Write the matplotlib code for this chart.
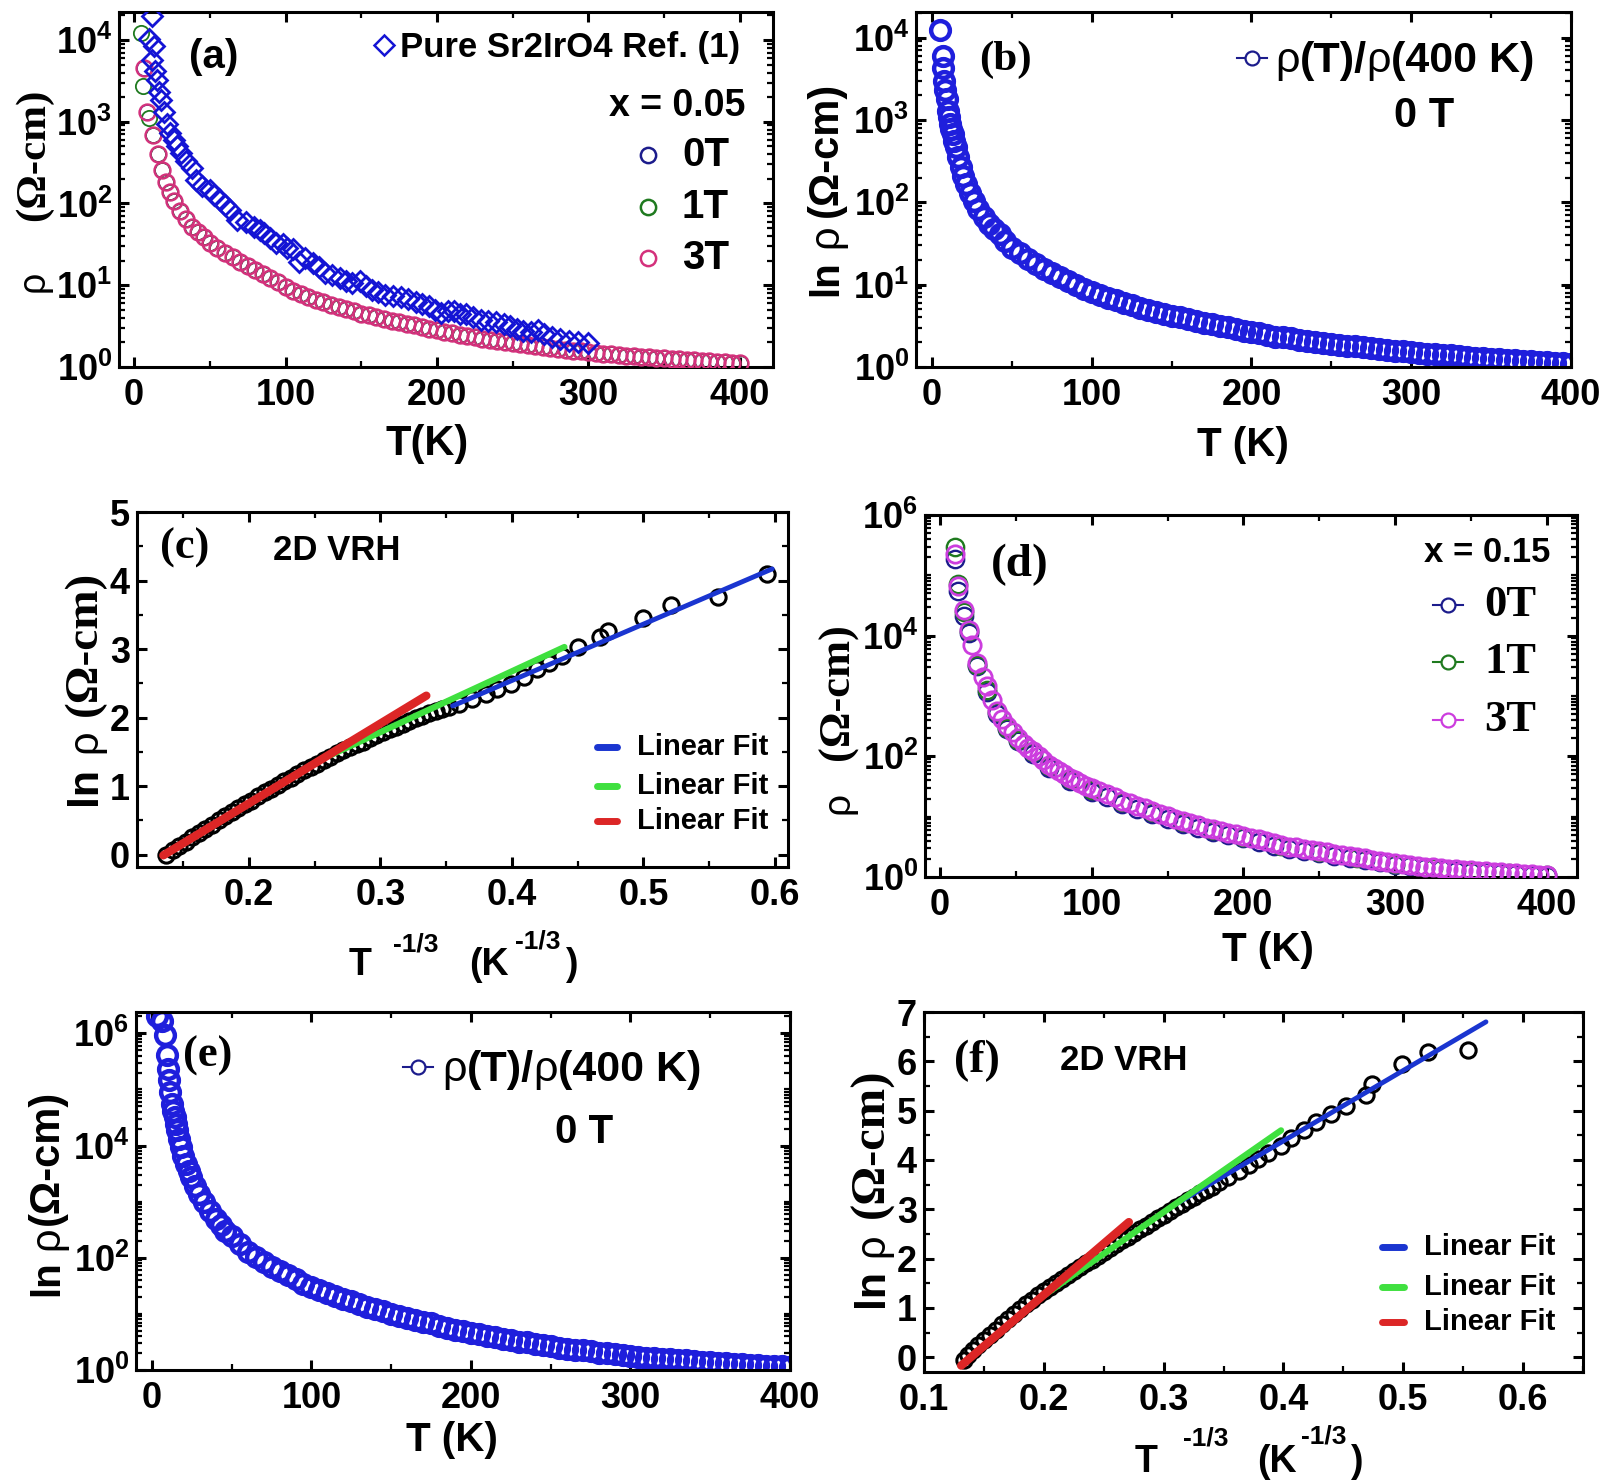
import numpy as np
import matplotlib
matplotlib.use('Agg')
import matplotlib.pyplot as plt
from matplotlib.lines import Line2D
from matplotlib.ticker import (MultipleLocator, FixedLocator, LogLocator,
                               LogFormatterMathtext, NullFormatter)

W, H = 1600, 1484

# ---------------- data ----------------
# shared temperature grid (K) for the dense high-T part of the curves
T_grid = [50, 55, 60, 65, 70, 75, 80, 85, 90, 95, 100, 105, 110, 115, 120, 125, 130, 135,
          140, 145, 150, 155, 160, 165, 170, 175, 180, 185, 190, 195, 200, 205, 210, 215,
          220, 225, 230, 235, 240, 245, 250, 255, 260, 265, 270, 275, 280, 285, 290, 295,
          300, 305, 310, 315, 320, 325, 330, 335, 340, 345, 350, 355, 360, 365, 370, 375,
          380, 385, 390, 395, 400]

# (a) x = 0.05
T_a_low = [6.5, 8.5, 12.5, 16, 18.5, 21, 23.5, 26, 30, 34, 38, 42, 46]
rho_a_3T_low = [4600, 1300, 690, 400, 260, 185, 140, 108, 82, 65, 52, 45, 38.5]
rho_a_3T_hi = [33, 28.5, 25, 22, 19.5, 17.3, 15.5, 13.8, 12.3, 10.9, 9.6,
               8.6, 7.8, 7.2, 6.6, 6.2, 5.8, 5.4, 5.1, 4.8, 4.5, 4.3, 4.1, 3.9, 3.7, 3.55,
               3.38, 3.22, 3.08, 2.95, 2.82,
               2.70, 2.59, 2.49, 2.40, 2.31, 2.23, 2.16, 2.09, 2.02, 1.95, 1.90, 1.86, 1.81,
               1.76, 1.71, 1.67, 1.63, 1.59, 1.55, 1.52,
               1.49, 1.46, 1.43, 1.41, 1.38, 1.36, 1.34, 1.32, 1.30, 1.28, 1.26, 1.24, 1.22,
               1.21, 1.19, 1.17, 1.16, 1.14, 1.13, 1.11]
T_a_1T_low = [4.3, 6.0, 10.0]
rho_a_1T_low = [12300, 2700, 1100]

T_pure = [10, 11.5, 12, 13, 14, 15, 16.5, 18, 20, 22, 24, 26, 28, 31, 34, 38, 41, 45, 50, 53,
          56, 60, 63, 68, 74, 79, 83, 86, 90, 94, 98, 101, 105, 109, 113, 118, 122, 126, 131,
          136, 140, 144, 149, 153, 157, 161, 166, 171, 176, 181, 186, 190, 195, 199, 203,
          207, 211, 215, 219, 224, 229, 234, 239, 244, 248, 253, 257, 262, 267, 271, 276,
          281, 287, 293, 300]
rho_pure = [10200, 19500, 5750, 8500, 4200, 3200, 2300, 1850, 1300, 930, 730, 600, 500, 420,
            330, 275, 195, 165, 148, 126, 112, 95, 83, 63, 59, 52, 48, 44, 38, 33, 31.6, 28.8,
            28, 19.5, 21.4, 18.6, 16.6, 14.1, 13.5, 12.3, 11.2, 10.7, 11.2, 9.8, 8.7, 8.3,
            7.6, 7.4, 7.2, 6.8, 6.3, 5.9, 5.5, 5.0, 4.6, 4.9, 4.8, 4.4, 4.4, 4.1, 3.8, 3.7,
            3.6, 3.4, 3.2, 2.9, 2.75, 2.7, 2.8, 2.5, 2.35, 2.2, 2.1, 2.05, 1.95]

# (b) rho(T)/rho(400 K), x = 0.05, 0 T
T_b_low = [5, 6.6, 7.2, 7.6, 8.4, 9.2, 9.8, 10.6, 11.5, 12.2, 13, 13.9, 14.8, 16.2, 18, 19.6,
           21.3, 23.5, 26, 29, 32.8, 36, 39, 42.6, 46]
rho_b_low = [12300, 6000, 4300, 3000, 2300, 1800, 1300, 1080, 890, 770, 670, 560, 465, 360,
             265, 210, 166, 130, 105, 82, 66, 54, 47, 41, 34]
rho_b_hi = [28.2, 24.0, 20.4, 17.8, 15.5, 13.8, 12.3, 11.0, 9.8, 8.9, 8.1,
            7.4, 6.9, 6.5, 6.0, 5.6, 5.2, 4.9, 4.7, 4.4, 4.2, 4.0, 3.8, 3.6, 3.47, 3.31, 3.16,
            3.02, 2.88, 2.75, 2.63,
            2.57, 2.45, 2.34, 2.29, 2.24, 2.14, 2.09, 2.04, 1.95, 1.91, 1.86, 1.82, 1.78,
            1.74, 1.70, 1.66, 1.62, 1.58, 1.55, 1.51,
            1.48, 1.45, 1.43, 1.40, 1.38, 1.35, 1.32, 1.30, 1.29, 1.26, 1.24, 1.23, 1.20,
            1.19, 1.17, 1.15, 1.14, 1.12, 1.11, 1.10]

# (c) 2D VRH, x = 0.05
x_c = [0.137, 0.142, 0.147, 0.152, 0.157, 0.162, 0.167, 0.172, 0.177, 0.182, 0.187, 0.192,
       0.197, 0.202, 0.207, 0.212, 0.217, 0.222, 0.227, 0.232, 0.237, 0.242, 0.247, 0.252,
       0.257, 0.262, 0.267, 0.272, 0.277, 0.282, 0.287, 0.292, 0.297, 0.302, 0.307, 0.312,
       0.317, 0.322, 0.327, 0.332, 0.337, 0.342, 0.347, 0.352, 0.360, 0.370, 0.380, 0.389,
       0.399, 0.409, 0.419, 0.428, 0.438, 0.450, 0.467, 0.473, 0.500, 0.521, 0.557, 0.594]
y_c = [0.00, 0.07, 0.13, 0.19, 0.26, 0.32, 0.38, 0.44, 0.50, 0.56, 0.62, 0.68, 0.74, 0.79,
       0.85, 0.91, 0.96, 1.02, 1.07, 1.12, 1.18, 1.23, 1.28, 1.33, 1.38, 1.43, 1.48, 1.52,
       1.57, 1.61, 1.65, 1.70, 1.74, 1.79, 1.83, 1.87, 1.91, 1.95, 1.99, 2.03, 2.06, 2.10,
       2.13, 2.15, 2.20, 2.27, 2.35, 2.42, 2.49, 2.59, 2.71, 2.80, 2.90, 3.03, 3.17, 3.27,
       3.46, 3.64, 3.76, 4.10]
fit_c_blue_x, fit_c_blue_y = [0.355, 0.598], [2.17, 4.17]
fit_c_green_x, fit_c_green_y = [0.262, 0.440], [1.45, 3.03]
fit_c_red_x, fit_c_red_y = [0.135, 0.335], [-0.01, 2.32]

# (d) x = 0.15
T_d_low = [9.6, 12, 15.4, 18.8, 21.2, 24.6, 28, 30.8, 34.2, 37.6, 41, 44.4, 48, 51.3, 55, 58,
           61.5, 65, 68, 71.8, 75, 78.5, 82, 85.5, 89, 92.5, 96]
rho_d_3T_low = [2.3e5, 6.6e4, 2.7e4, 1.25e4, 7.0e3, 3.5e3, 2.1e3, 1.45e3, 870, 560, 420, 315,
                250, 200, 162, 140, 122, 100, 86, 73, 65, 58, 50, 44, 40, 36, 32.5]
rho_d_3T_hi = [29.5, 26.3, 23.4, 20.9, 18.2, 16.6, 15.1, 13.8, 12.3, 11.2, 10.2, 9.3, 8.5,
               7.8, 7.2, 6.6, 6.2, 5.8, 5.4, 5.1, 4.8, 4.5, 4.2, 3.9, 3.6, 3.4, 3.2, 3.1,
               2.95, 2.8, 2.7, 2.57, 2.45, 2.34, 2.24, 2.14, 2.04, 1.95, 1.86, 1.78, 1.70,
               1.66, 1.58, 1.55, 1.48, 1.45, 1.41, 1.38, 1.35, 1.32, 1.29, 1.26, 1.24, 1.22,
               1.19, 1.16, 1.15, 1.13, 1.11, 1.10, 1.08]
T_d_0T = [9.6, 12, 15.4, 18.8, 24.6, 30.8, 37.6, 44.4, 51.3, 61.5, 71.8, 85.5, 100, 110, 120,
          130, 140, 150, 160, 170, 180, 190, 200, 210, 220, 230, 240, 250, 260, 270, 280, 290,
          300, 310, 320, 330, 340, 350, 360, 370, 380, 390, 400]
rho_d_0T = [1.9e5, 5.4e4, 2.1e4, 1.1e4, 3.1e3, 1.15e3, 500, 280, 178, 108, 64, 39, 26, 21,
            16.2, 13.5, 11.0, 9.1, 7.6, 6.5, 5.6, 4.9, 4.4, 3.8, 3.3, 2.95, 2.7, 2.5, 2.27,
            2.09, 1.91, 1.75, 1.6, 1.5, 1.4, 1.34, 1.28, 1.23, 1.19, 1.15, 1.12, 1.08, 1.05]
T_d_1T = [9.6, 12, 15.4, 18.8, 24.6, 30.8, 37.6, 44.4, 51.3, 61.5, 71.8, 85.5, 100, 120, 140,
          160, 180, 200, 225, 250, 275, 300, 325, 350, 375, 400]
rho_d_1T = [3.0e5, 7.2e4, 2.5e4, 1.2e4, 3.3e3, 1.25e3, 540, 300, 190, 116, 70, 42, 28, 17.3,
            11.8, 8.2, 6.0, 4.6, 3.3, 2.6, 2.08, 1.66, 1.42, 1.27, 1.15, 1.07]

# (e) rho(T)/rho(400 K), x = 0.15, 0 T
T_e_low = [3.3, 6.5, 8.2, 9.2, 9.9, 10.5, 11.5, 12.5, 13.3, 14.2, 15, 15.8, 17, 18.1, 19.7,
           21.4, 23, 24.7, 27, 29.6, 32.5, 36.2, 40, 43, 46, 50, 55]
rho_e_low = [2.0e6, 1.66e6, 9.3e5, 4.1e5, 2.3e5, 1.45e5, 9.1e4, 5.6e4, 4.2e4, 3.2e4, 2.4e4,
             1.86e4, 1.32e4, 9.3e3, 6.6e3, 4.7e3, 3.5e3, 2.7e3, 1.9e3, 1.35e3, 1.0e3, 690,
             500, 390, 300, 240, 178]
rho_e_hi = [129, 105, 85, 68, 58, 49, 42, 34, 30,
            27, 23.4, 20.9, 18.6, 17.0, 15.1, 13.5, 12.3, 11.2, 9.8, 9.1, 8.5, 7.9, 7.2, 6.8,
            6.0, 5.6, 5.2, 4.9, 4.6,
            4.3, 4.0, 3.8, 3.6, 3.4, 3.2, 3.1, 2.95, 2.75, 2.63, 2.51, 2.40, 2.29, 2.24, 2.14,
            2.04, 2.00, 1.91, 1.86, 1.78,
            1.74, 1.66, 1.62, 1.58, 1.55, 1.51, 1.48, 1.45, 1.41, 1.38, 1.35, 1.32, 1.29,
            1.26, 1.24, 1.23, 1.20, 1.19, 1.16, 1.15]

# (f) 2D VRH, x = 0.15
x_f = [0.133, 0.137, 0.141, 0.145, 0.150, 0.155, 0.160, 0.165, 0.170, 0.175, 0.180, 0.185,
       0.190, 0.195, 0.200, 0.205, 0.210, 0.215, 0.220, 0.225, 0.230, 0.235, 0.240, 0.245,
       0.250, 0.255, 0.260, 0.265, 0.270, 0.275, 0.280, 0.285, 0.290, 0.295, 0.300, 0.305,
       0.310, 0.315, 0.320, 0.325, 0.330, 0.335, 0.340, 0.346, 0.354, 0.3625, 0.371, 0.379,
       0.3875, 0.398, 0.406, 0.417, 0.427, 0.440, 0.452, 0.469, 0.474, 0.499, 0.521, 0.554]
y_f = [-0.05, 0.05, 0.14, 0.24, 0.35, 0.46, 0.56, 0.67, 0.77, 0.87, 0.97, 1.07, 1.17, 1.26,
       1.35, 1.43, 1.51, 1.59, 1.67, 1.75, 1.83, 1.91, 1.98, 2.06, 2.14, 2.21, 2.29, 2.37,
       2.44, 2.52, 2.59, 2.67, 2.74, 2.82, 2.89, 2.97, 3.04, 3.11, 3.18, 3.25, 3.32, 3.39,
       3.46, 3.55, 3.65, 3.77, 3.90, 4.02, 4.14, 4.29, 4.44, 4.60, 4.76, 4.93, 5.10, 5.32,
       5.55, 5.95, 6.18, 6.22]
fit_f_blue_x, fit_f_blue_y = [0.310, 0.569], [3.10, 6.80]
fit_f_green_x, fit_f_green_y = [0.200, 0.398], [1.25, 4.60]
fit_f_red_x, fit_f_red_y = [0.131, 0.271], [-0.17, 2.74]

# ---------------- style ----------------
plt.rcParams.update({
    'font.family': ['Liberation Sans', 'DejaVu Sans'],
    'font.weight': 'bold',
    'mathtext.fontset': 'custom',
    'mathtext.rm': 'Liberation Sans:bold',
    'mathtext.it': 'Liberation Sans:bold',
    'mathtext.bf': 'Liberation Sans:bold',
    'axes.linewidth': 2.2,
    'xtick.direction': 'in', 'ytick.direction': 'in',
    'xtick.top': True, 'ytick.right': True,
    'xtick.major.size': 7, 'ytick.major.size': 7,
    'xtick.minor.size': 4, 'ytick.minor.size': 4,
    'xtick.major.width': 2.2, 'ytick.major.width': 2.2,
    'xtick.minor.width': 1.6, 'ytick.minor.width': 1.6,
    'xtick.labelsize': 26, 'ytick.labelsize': 26,
    'xtick.major.pad': 8, 'ytick.major.pad': 5,
})

SANS = ['Liberation Sans', 'DejaVu Sans']
SERIF = ['Liberation Serif', 'DejaVu Serif']

NAVY = '#1c1c8c'
GREEN = '#1f7a1f'
PINK = '#d4317c'
BLUE = '#1f1fdc'
MAGENTA = '#cc3dde'
FIT_BLUE = '#1a35d0'
FIT_GREEN = '#3fe03f'
FIT_RED = '#dc2626'

fig = plt.figure(figsize=(16, 14.84), dpi=100)
renderer = fig.canvas.get_renderer()


def add_ax(x1, y1, x2, y2):
    return fig.add_axes([x1 / W, 1 - y2 / H, (x2 - x1) / W, (y2 - y1) / H])


def put(x, y, s, size, fam=SANS, weight='bold', **kw):
    kw.setdefault('ha', 'center')
    kw.setdefault('va', 'center')
    return fig.text(x / W, 1 - y / H, s, fontsize=size, family=fam, weight=weight, **kw)


def put_row(x, y, pieces):
    # pieces placed left to right on a common baseline
    for s, size, weight in pieces:
        t = put(x, y, s, size, weight=weight, ha='left', va='baseline')
        x += t.get_window_extent(renderer).width


def put_col(x, y, pieces):
    # rotated pieces stacked upward from y (bottom)
    for s, size, fam, weight, gap in pieces:
        t = put(x, y, s, size, fam=fam, weight=weight, rotation=90, va='bottom')
        y -= t.get_window_extent(renderer).height + gap


def mark(x, y, color, marker='o', ms=10, line=False):
    if line:
        xs = [(x - 15) / W, x / W, (x + 15) / W]
        fig.add_artist(Line2D(xs, [1 - y / H] * 3, color=color, lw=1.5, marker=marker,
                              markevery=[1], ms=ms, mfc='white', mec=color, mew=1.6))
    else:
        fig.add_artist(Line2D([x / W], [1 - y / H], ls='none', marker=marker, ms=ms,
                              mfc='none', mec=color, mew=1.8))


def fit_key(x1, x2, y, color, text):
    fig.add_artist(Line2D([x1 / W, x2 / W], [1 - y / H] * 2, color=color, lw=5,
                          solid_capstyle='round'))
    put(x2 + 20, y, text, 21, ha='left')


def log_y(ax, lo, hi, majors, minor_subs):
    ax.set_yscale('log')
    ax.set_ylim(lo, hi)
    ax.yaxis.set_major_locator(FixedLocator(majors))
    ax.yaxis.set_major_formatter(LogFormatterMathtext())
    ax.yaxis.set_minor_locator(LogLocator(base=10, subs=minor_subs, numticks=40))
    ax.yaxis.set_minor_formatter(NullFormatter())


def ring(ax, x, y, color, ms=10, mew=1.3, z=2):
    ax.plot(x, y, ls='none', marker='o', ms=ms, mfc='none', mec=color, mew=mew, zorder=z)


def sup_label(x0, base, pieces):
    # x-label with raised exponents: (text, x offset, raise, size)
    for s, dx, up, size in pieces:
        put(x0 + dx, base - up, s, size, ha='left', va='baseline')


# ---------------- (a) ----------------
ax = add_ax(119, 12, 773, 367)
T_a = T_a_low + T_grid
rho_a_3T = rho_a_3T_low + rho_a_3T_hi
ring(ax, T_a, rho_a_3T, NAVY, ms=11)
ring(ax, T_a_1T_low + T_a[2:], rho_a_1T_low + rho_a_3T[2:], GREEN, ms=11)
ring(ax, T_a, rho_a_3T, PINK, ms=11.5, mew=1.7, z=3)
ax.plot(T_pure, rho_pure, ls='none', marker='D', ms=10, mfc='none', mec='#1414d4', mew=2.0,
        zorder=4)
ax.set_xlim(-10, 422)
ax.xaxis.set_major_locator(MultipleLocator(100))
ax.xaxis.set_minor_locator(MultipleLocator(50))
log_y(ax, 1, 2.2e4, [1, 10, 100, 1e3, 1e4], np.arange(2, 10))
put(214, 57, '(a)', 29)
mark(384, 45, '#1414d4', marker='D', ms=10)
put(400, 47, 'Pure Sr2IrO4 Ref. (1)', 25, ha='left')
put(745, 106, 'x = 0.05', 27, ha='right')
for yy, c, lab in [(155, NAVY, '0T'), (207, GREEN, '1T'), (258, PINK, '3T')]:
    mark(648, yy, c, ms=11)
    put(682, yy, lab, 29, ha='left')
put(427, 444, 'T(K)', 30)
put_col(34, 292, [('ρ', 27, SANS, 'normal', 50), ('(Ω-cm)', 31, SERIF, 'bold', 0)])

# ---------------- (b) ----------------
ax = add_ax(916, 12, 1571, 367)
ring(ax, T_b_low + T_grid, rho_b_low + rho_b_hi, BLUE, ms=13.5, mew=3.2)
ax.set_xlim(-10, 400)
ax.xaxis.set_major_locator(MultipleLocator(100))
ax.xaxis.set_minor_locator(MultipleLocator(50))
log_y(ax, 1, 2.05e4, [1, 10, 100, 1e3, 1e4], np.arange(2, 10))
put(1005, 60, '(b)', 31, fam=SERIF)
mark(1252, 58, NAVY, line=True)
put_row(1275, 72, [('ρ', 31, 'normal'), ('(T)/', 31, 'bold'), ('ρ', 31, 'normal'),
                   ('(400 K)', 31, 'bold')])
put(1424, 116, '0 T', 30)
put(1243, 445, 'T (K)', 29)
put_col(826, 296, [('ln', 29, SANS, 'bold', 12), ('ρ', 30, SANS, 'normal', 8),
                   ('(Ω-cm)', 30, SANS, 'bold', 0)])

# ---------------- (c) ----------------
ax = add_ax(137, 512, 788, 867)
ring(ax, x_c, y_c, 'black', ms=11, mew=2.2)
ax.plot(fit_c_blue_x, fit_c_blue_y, color=FIT_BLUE, lw=3.5, solid_capstyle='round', zorder=4)
ax.plot(fit_c_green_x, fit_c_green_y, color=FIT_GREEN, lw=4.5, solid_capstyle='round', zorder=5)
ax.plot(fit_c_red_x, fit_c_red_y, color=FIT_RED, lw=6, solid_capstyle='round', zorder=6)
ax.set_xlim(0.115, 0.61)
ax.set_ylim(-0.18, 5)
ax.xaxis.set_major_locator(MultipleLocator(0.1))
ax.xaxis.set_minor_locator(MultipleLocator(0.05))
ax.yaxis.set_major_locator(MultipleLocator(1))
ax.yaxis.set_minor_locator(MultipleLocator(0.5))
put(185, 548, '(c)', 32, fam=SERIF)
put(337, 550, '2D VRH', 25)
fit_key(597, 617, 747, FIT_BLUE, 'Linear Fit')
fit_key(597, 617, 786, FIT_GREEN, 'Linear Fit')
fit_key(597, 617, 821, FIT_RED, 'Linear Fit')
sup_label(349, 975, [('T', 0, 0, 27), ('-1/3', 44, 24, 19), ('(K', 120, 0, 27),
                     ('-1/3', 166, 26, 19), (')', 216, 0, 27)])
put_col(85, 805, [('ln', 31, SANS, 'bold', 14), ('ρ', 30, SANS, 'normal', 14),
                  ('(Ω-cm)', 34, SERIF, 'bold', 0)])

# ---------------- (d) ----------------
ax = add_ax(925, 515, 1577, 877)
ring(ax, T_d_0T, rho_d_0T, NAVY, ms=12.5, mew=1.7)
ring(ax, T_d_1T, rho_d_1T, GREEN, ms=12.5, mew=1.7)
ring(ax, T_d_low + T_grid[10:], rho_d_3T_low + rho_d_3T_hi, MAGENTA, ms=12.5, mew=2.0, z=3)
ax.set_xlim(-10, 420)
ax.xaxis.set_major_locator(MultipleLocator(100))
ax.xaxis.set_minor_locator(MultipleLocator(50))
log_y(ax, 1, 1e6, [1, 1e2, 1e4, 1e6], np.arange(1, 10))
put(1020, 565, '(d)', 34, fam=SERIF)
put(1487, 552, 'x = 0.15', 25)
for yy, c, lab in [(605, NAVY, '0T'), (662, GREEN, '1T'), (720, MAGENTA, '3T')]:
    mark(1448, yy, c, line=True)
    put(1484, yy, lab, 32, fam=SERIF, ha='left')
put(1268, 950, 'T (K)', 29)
put_col(838, 814, [('ρ', 28, SANS, 'normal', 32), ('(Ω-cm)', 32, SERIF, 'bold', 0)])

# ---------------- (e) ----------------
ax = add_ax(136, 1012, 790, 1370)
ring(ax, T_e_low + T_grid[2:], rho_e_low + rho_e_hi, BLUE, ms=13.5, mew=3.2)
ax.set_xlim(-10, 400)
ax.xaxis.set_major_locator(MultipleLocator(100))
ax.xaxis.set_minor_locator(MultipleLocator(50))
log_y(ax, 1, 2.4e6, [1, 1e2, 1e4, 1e6], np.arange(1, 10))
put(208, 1056, '(e)', 32, fam=SERIF)
mark(418, 1067, NAVY, line=True)
put_row(442, 1081, [('ρ', 31, 'normal'), ('(T)/', 31, 'bold'), ('ρ', 31, 'normal'),
                    ('(400 K)', 31, 'bold')])
put(584, 1132, '0 T', 29)
put(452, 1440, 'T (K)', 29)
put_col(47, 1296, [('ln', 29, SANS, 'bold', 10), ('ρ', 30, SANS, 'normal', 2),
                   ('(Ω-cm)', 30, SANS, 'bold', 0)])

# ---------------- (f) ----------------
ax = add_ax(924, 1012, 1583, 1372)
ring(ax, x_f, y_f, 'black', ms=11, mew=2.2)
ax.plot(fit_f_blue_x, fit_f_blue_y, color=FIT_BLUE, lw=3.5, solid_capstyle='round', zorder=4)
ax.plot(fit_f_green_x, fit_f_green_y, color=FIT_GREEN, lw=4.5, solid_capstyle='round', zorder=5)
ax.plot(fit_f_red_x, fit_f_red_y, color=FIT_RED, lw=6, solid_capstyle='round', zorder=6)
ax.set_xlim(0.1, 0.65)
ax.set_ylim(-0.3, 7)
ax.xaxis.set_major_locator(MultipleLocator(0.1))
ax.xaxis.set_minor_locator(MultipleLocator(0.05))
ax.yaxis.set_major_locator(MultipleLocator(1))
ax.yaxis.set_minor_locator(MultipleLocator(0.5))
put(977, 1061, '(f)', 33, fam=SERIF)
put(1124, 1060, '2D VRH', 25)
fit_key(1382, 1404, 1247, FIT_BLUE, 'Linear Fit')
fit_key(1382, 1404, 1287, FIT_GREEN, 'Linear Fit')
fit_key(1382, 1404, 1322, FIT_RED, 'Linear Fit')
sup_label(1135, 1472, [('T', 0, 0, 27), ('-1/3', 48, 26, 19), ('(K', 122, 0, 27),
                       ('-1/3', 166, 28, 19), (')', 215, 0, 27)])
put_col(872, 1307, [('ln', 31, SANS, 'bold', 12), ('ρ', 30, SANS, 'normal', 16),
                    ('(Ω-cm)', 35, SERIF, 'bold', 0)])

fig.savefig('out.png', dpi=100)
